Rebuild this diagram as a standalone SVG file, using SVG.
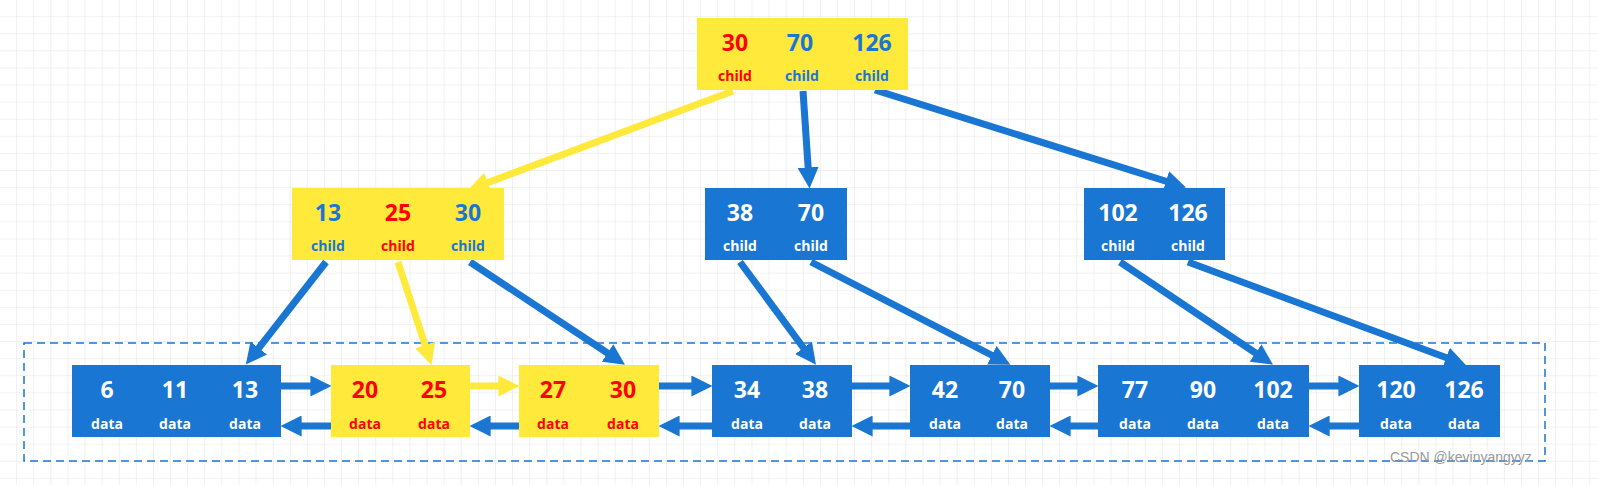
<svg xmlns="http://www.w3.org/2000/svg" width="1598" height="485" viewBox="0 0 1598 485">
<defs>
<pattern id="g" width="17.1" height="17.1" patternUnits="userSpaceOnUse"><path d="M17.1 0V17.1H0" fill="none" stroke="#e3e3e3" stroke-width="1"/></pattern>
<marker id="ab" viewBox="0 0 10 10" refX="6" refY="5" markerWidth="3" markerHeight="3" orient="auto" markerUnits="strokeWidth"><path d="M0 0L10 5L0 10z" fill="#1976d2"/></marker>
<marker id="ay" viewBox="0 0 10 10" refX="6" refY="5" markerWidth="3" markerHeight="3" orient="auto" markerUnits="strokeWidth"><path d="M0 0L10 5L0 10z" fill="#ffe93b"/></marker>
<style>
.b{fill:#1976d2}.y{fill:#ffe93b}
.n{font-family:"Open Sans","Noto Sans",sans-serif;font-weight:bold;font-size:23px;text-anchor:middle}
.s{font-family:"Open Sans","Noto Sans",sans-serif;font-weight:bold;font-size:14px;text-anchor:middle}
.w{fill:#fff}.r{fill:#ff0000}.u{fill:#1976d2}
.lb{stroke:#1976d2;stroke-width:7;fill:none;marker-end:url(#ab)}
.ly{stroke:#ffe93b;stroke-width:7;fill:none;marker-end:url(#ay)}
</style>
</defs>
<rect width="1598" height="485" fill="#fff"/>
<rect width="1598" height="485" fill="url(#g)"/>
<rect x="24" y="343" width="1521" height="118" fill="none" stroke="#1976d2" stroke-width="1.5" stroke-dasharray="8,5"/>
<g id="connectors">
<line class="ly" x1="733" y1="91" x2="476" y2="187"/>
<line class="lb" x1="803" y1="91" x2="809" y2="180"/>
<line class="lb" x1="875" y1="90" x2="1178" y2="185"/>
<line class="lb" x1="326" y1="262" x2="251" y2="358"/>
<line class="ly" x1="398" y1="262" x2="429" y2="357"/>
<line class="lb" x1="470" y1="262" x2="618" y2="360"/>
<line class="lb" x1="740" y1="262" x2="811" y2="358"/>
<line class="lb" x1="811" y1="262" x2="1003" y2="361"/>
<line class="lb" x1="1120" y1="262" x2="1266" y2="360"/>
<line class="lb" x1="1188" y1="262" x2="1458" y2="362"/>
<line class="lb" x1="281" y1="386" x2="323" y2="386"/>
<line class="ly" x1="470" y1="386" x2="511" y2="386"/>
<line class="lb" x1="659" y1="386" x2="704" y2="386"/>
<line class="lb" x1="852" y1="386" x2="902" y2="386"/>
<line class="lb" x1="1050" y1="386" x2="1090" y2="386"/>
<line class="lb" x1="1309" y1="386" x2="1351" y2="386"/>
<line class="lb" x1="331" y1="426" x2="289" y2="426"/>
<line class="lb" x1="519" y1="426" x2="478" y2="426"/>
<line class="lb" x1="712" y1="426" x2="667" y2="426"/>
<line class="lb" x1="910" y1="426" x2="860" y2="426"/>
<line class="lb" x1="1098" y1="426" x2="1058" y2="426"/>
<line class="lb" x1="1359" y1="426" x2="1317" y2="426"/>
</g>
<g id="root"><rect class="y" x="697" y="18" width="211" height="72"/>
<text class="n r" x="735" y="51">30</text><text class="n u" x="800" y="51">70</text><text class="n u" x="872" y="51">126</text>
<text class="s r" x="735" y="81">child</text><text class="s u" x="802" y="81">child</text><text class="s u" x="872" y="81">child</text></g>
<g id="n13"><rect class="y" x="292" y="188" width="212" height="72"/>
<text class="n u" x="328" y="221">13</text><text class="n r" x="398" y="221">25</text><text class="n u" x="468" y="221">30</text>
<text class="s u" x="328" y="251">child</text><text class="s r" x="398" y="251">child</text><text class="s u" x="468" y="251">child</text></g>
<g id="n38"><rect class="b" x="705" y="188" width="142" height="72"/>
<text class="n w" x="740" y="221">38</text><text class="n w" x="811" y="221">70</text>
<text class="s w" x="740" y="251">child</text><text class="s w" x="811" y="251">child</text></g>
<g id="n102"><rect class="b" x="1084" y="188" width="141" height="72"/>
<text class="n w" x="1118" y="221">102</text><text class="n w" x="1188" y="221">126</text>
<text class="s w" x="1118" y="251">child</text><text class="s w" x="1188" y="251">child</text></g>
<g id="l1"><rect class="b" x="72" y="365" width="209" height="72"/>
<text class="n w" x="107" y="398">6</text><text class="n w" x="175" y="398">11</text><text class="n w" x="245" y="398">13</text>
<text class="s w" x="107" y="429">data</text><text class="s w" x="175" y="429">data</text><text class="s w" x="245" y="429">data</text></g>
<g id="l2"><rect class="y" x="331" y="365" width="139" height="72"/>
<text class="n r" x="365" y="398">20</text><text class="n r" x="434" y="398">25</text>
<text class="s r" x="365" y="429">data</text><text class="s r" x="434" y="429">data</text></g>
<g id="l3"><rect class="y" x="519" y="365" width="140" height="72"/>
<text class="n r" x="553" y="398">27</text><text class="n r" x="623" y="398">30</text>
<text class="s r" x="553" y="429">data</text><text class="s r" x="623" y="429">data</text></g>
<g id="l4"><rect class="b" x="712" y="365" width="140" height="72"/>
<text class="n w" x="747" y="398">34</text><text class="n w" x="815" y="398">38</text>
<text class="s w" x="747" y="429">data</text><text class="s w" x="815" y="429">data</text></g>
<g id="l5"><rect class="b" x="910" y="365" width="140" height="72"/>
<text class="n w" x="945" y="398">42</text><text class="n w" x="1012" y="398">70</text>
<text class="s w" x="945" y="429">data</text><text class="s w" x="1012" y="429">data</text></g>
<g id="l6"><rect class="b" x="1098" y="365" width="211" height="72"/>
<text class="n w" x="1135" y="398">77</text><text class="n w" x="1203" y="398">90</text><text class="n w" x="1273" y="398">102</text>
<text class="s w" x="1135" y="429">data</text><text class="s w" x="1203" y="429">data</text><text class="s w" x="1273" y="429">data</text></g>
<g id="l7"><rect class="b" x="1359" y="365" width="141" height="72"/>
<text class="n w" x="1396" y="398">120</text><text class="n w" x="1464" y="398">126</text>
<text class="s w" x="1396" y="429">data</text><text class="s w" x="1464" y="429">data</text></g>
<text x="1390" y="462" font-family="Liberation Sans,sans-serif" font-size="14" fill="#999">CSDN @kevinyangyyz</text>
</svg>
